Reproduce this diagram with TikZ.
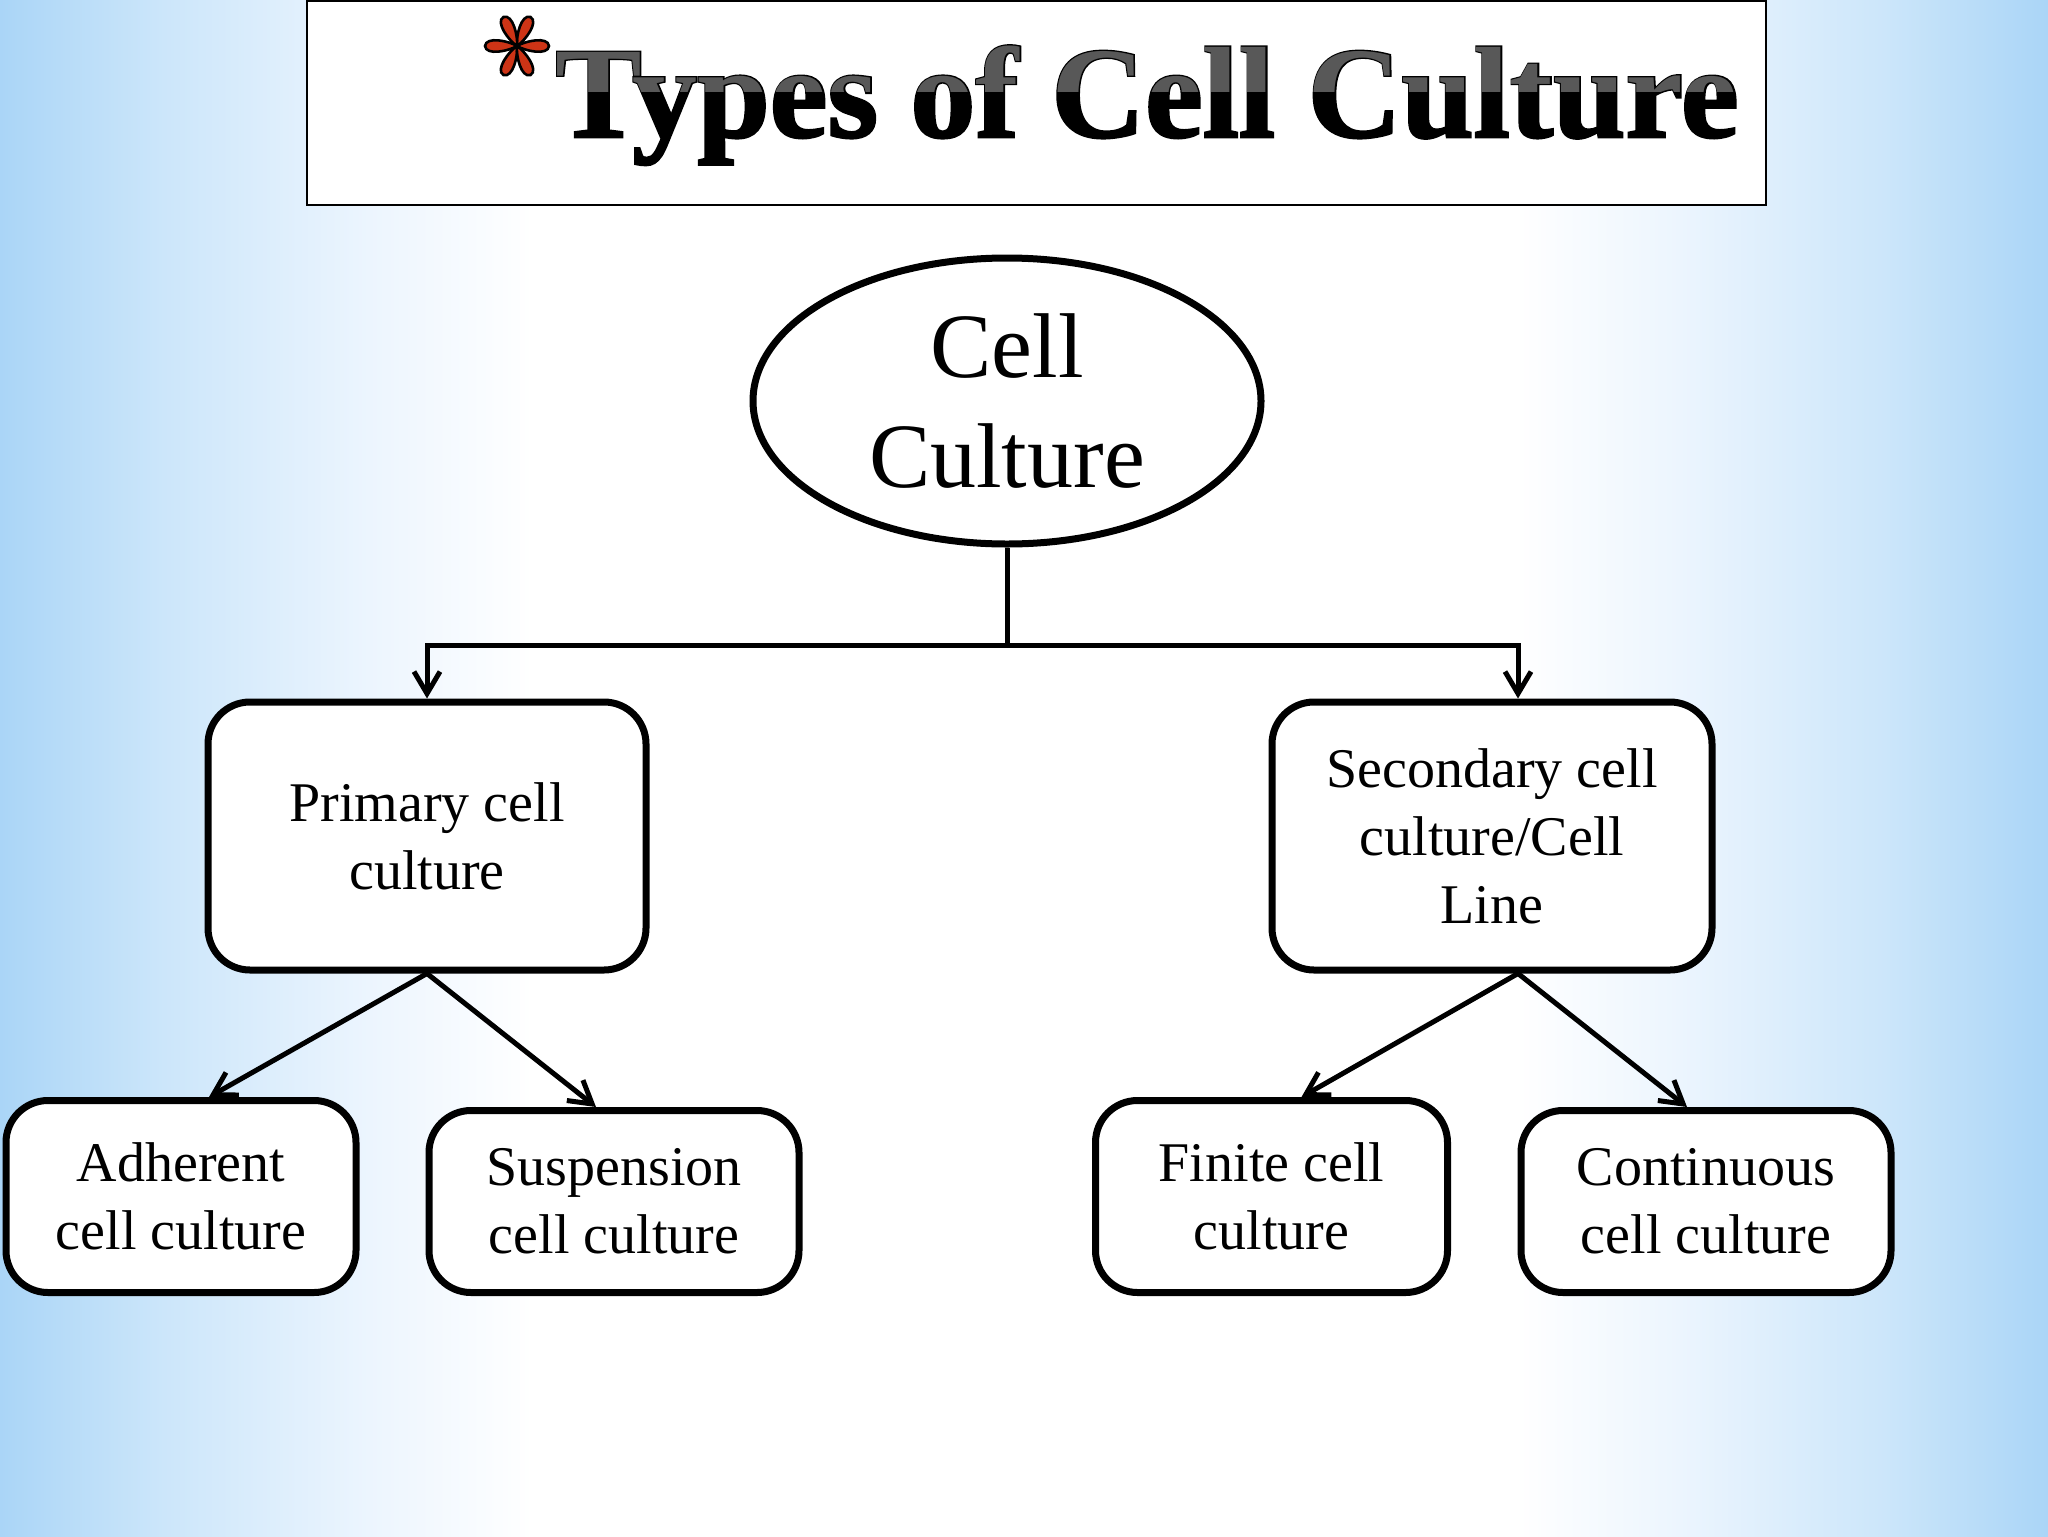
\documentclass[tikz,border=0pt]{standalone}
\usepackage{fontspec}
\setmainfont{Liberation Serif}
\usetikzlibrary{shapes.geometric,arrows.meta}
\font\titleheavy="Liberation Serif/B:embolden=2" at 65pt
\font\titlebold="Liberation Serif/B" at 65pt
\definecolor{bgedge}{RGB}{170,213,247}
\definecolor{bgmid}{RGB}{204,230,250}
\definecolor{bgpale}{RGB}{236,245,254}
\definecolor{titlegray}{RGB}{88,88,88}
\definecolor{astred}{RGB}{205,52,22}
\pgfdeclarehorizontalshading{bgshade}{100bp}{color(0bp)=(bgedge); color(25bp)=(bgedge); color(29bp)=(bgmid); color(34bp)=(bgpale); color(38bp)=(white); color(62bp)=(white); color(66bp)=(bgpale); color(71bp)=(bgmid); color(75bp)=(bgedge); color(100bp)=(bgedge)}
\tikzset{
  box/.style={draw, line width=3.5pt, rounded corners=21pt, fill=white, align=center,
    inner sep=0pt, font=\fontsize{28}{34}\selectfont},
  conn/.style={line width=2.5pt},
  arr/.style={conn, -{Straight Barb[length=11pt,width=13pt]}},
  petal/.style={fill=astred, draw=black, line width=1.3pt}
}
\begin{document}
\begin{tikzpicture}[x=0.5pt,y=-0.5pt]
\useasboundingbox (0,0) rectangle (2048,1536);
\shade[shading=bgshade] (0,0) rectangle (2048,1536);
% title
\draw[fill=white, line width=1pt] (307,1) rectangle (1766,205);
\node[anchor=base west, inner sep=0pt, font=\titleheavy] (title) at (555,137) {Types of Cell Culture};
\begin{scope}
\clip (540,40) rectangle (1760,92);
\node[anchor=base west, inner sep=0pt, font=\titlebold, text=titlegray] (titleshade) at (555,137) {Types of Cell Culture};
\end{scope}
% asterisk
\coordinate (ast) at (517,46);
\foreach \a in {0,65,115,180,245,295}{
  \draw[petal, shift={(ast)}, rotate=\a] (0,0) .. controls (8,-5) and (31,-10) .. (32,0) .. controls (31,10) and (8,5) .. (0,0);
}
% root
\node[ellipse, draw, line width=3.5pt, fill=white, minimum width=254pt, minimum height=143pt,
  inner sep=0pt, align=center, font=\fontsize{46}{55}\selectfont] (root) at (1007,401) {Cell\\Culture};
% level 1
\node[box, minimum width=219pt, minimum height=134pt] (primary) at (427,836) {Primary cell\\culture};
\node[box, minimum width=220pt, minimum height=134pt] (secondary) at (1492,836) {Secondary cell\\culture/Cell\\Line};
% level 2
\node[box, minimum width=175pt, minimum height=96pt] (adherent) at (181,1196.5) {Adherent\\cell culture};
\node[box, minimum width=185pt, minimum height=91pt] (suspension) at (614,1201.5) {Suspension\\cell culture};
\node[box, minimum width=176pt, minimum height=96pt] (finite) at (1271.5,1196.5) {Finite cell\\culture};
\node[box, minimum width=185pt, minimum height=91pt] (continuous) at (1706,1201.5) {Continuous\\cell culture};
% connectors
\coordinate (j) at (1007,645);
\coordinate (jl) at (427,645);
\coordinate (jr) at (1518,645);
\draw[conn] (root.south) -- (j);
\draw[arr] (j) -| (primary.north);
\draw[arr] (j) -| (secondary.north -| jr);
\draw[arr] (primary.south) -- ([xshift=14pt]adherent.north);
\draw[arr] (primary.south) -- ([xshift=-9pt]suspension.north);
\draw[arr] (secondary.south -| jr) -- ([xshift=15pt]finite.north);
\draw[arr] (secondary.south -| jr) -- ([xshift=-9.5pt]continuous.north);
\end{tikzpicture}
\end{document}
